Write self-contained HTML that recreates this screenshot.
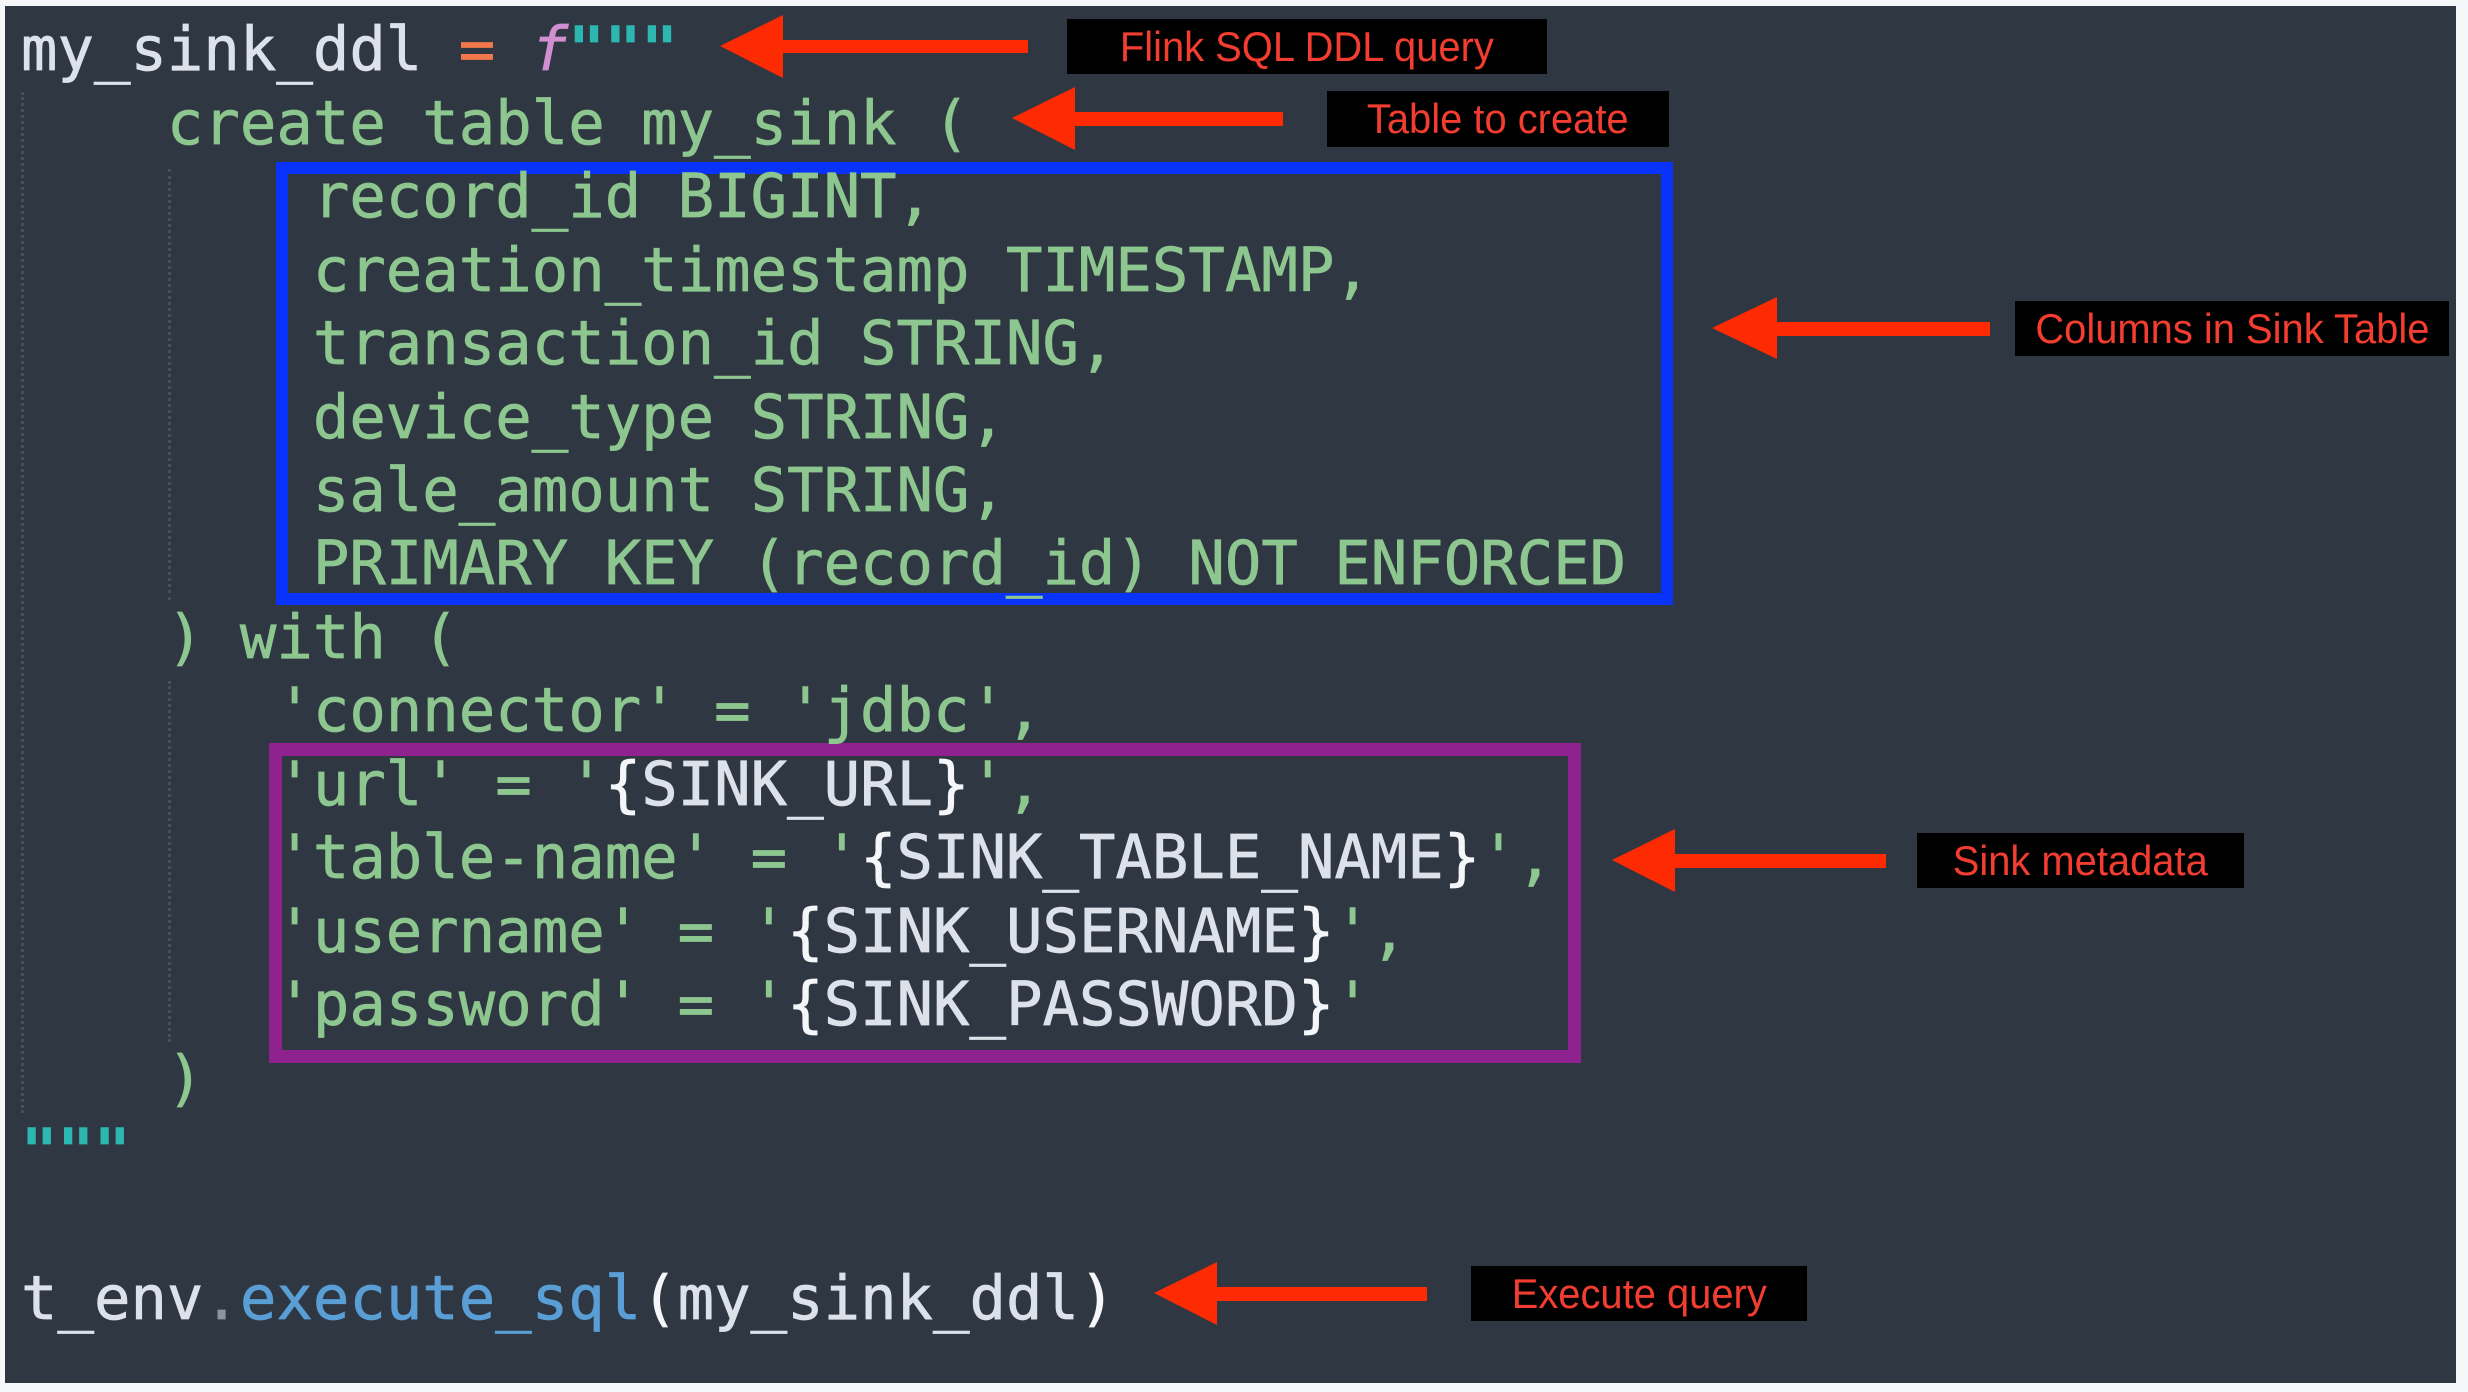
<!DOCTYPE html>
<html>
<head>
<meta charset="utf-8">
<style>
  html, body { margin:0; padding:0; }
  body { width:2468px; height:1392px; background:#f6f7f9; position:relative; overflow:hidden; }
  #bg { position:absolute; left:5px; top:6px; width:2451px; height:1377px; background:#2e3742; }
  pre.code {
    position:absolute; left:21px; top:14.3px; margin:0;
    font-family:"DejaVu Sans Mono","Liberation Mono",monospace;
    font-size:60.6px; line-height:73.45px; white-space:pre;
    color:#d9dee6;
    -webkit-text-stroke:0.7px currentColor;
  }
  .g { color:#8dc78f; }
  .w { color:#dde2ea; }
  .o { color:#f0784a; }
  .p { color:#d18fd1; font-style:italic; }
  .t { color:#2db7b1; font-weight:bold; }
  .b { color:#5a9ed6; }
  .d { color:#8b939c; }
  .wh { color:#f4f6f9; }
  .guide { position:absolute; width:0; border-left:3px dotted #465059; }
  .box { position:absolute; box-sizing:border-box; }
  .lbl {
    position:absolute; background:#000; color:#f23d30;
    font-family:"Liberation Sans",Arial,sans-serif; font-size:42px;
    display:flex; align-items:center; justify-content:center; white-space:nowrap;
  }
  .lbl span { display:inline-block; transform:scaleX(0.95); }
  svg { position:absolute; left:0; top:0; }
</style>
</head>
<body>
<div id="bg"></div>

<div class="guide" style="left:21px; top:92px; height:1021px;"></div>
<div class="guide" style="left:168px; top:169px; height:431px;"></div>
<div class="guide" style="left:168px; top:681px; height:361px;"></div>

<div class="box" style="left:276px; top:162px; width:1397px; height:443px; border:12px solid #0a33fa;"></div>
<div class="box" style="left:269px; top:743px; width:1312px; height:320px; border:13px solid #8f228f;"></div>

<pre class="code"><span class="w">my_sink_ddl</span> <span class="o">=</span> <span class="p">f</span><span class="t">"""</span>
<span class="g">    create table my_sink (</span>
<span class="g">        record_id BIGINT,</span>
<span class="g">        creation_timestamp TIMESTAMP,</span>
<span class="g">        transaction_id STRING,</span>
<span class="g">        device_type STRING,</span>
<span class="g">        sale_amount STRING,</span>
<span class="g">        PRIMARY KEY (record_id) NOT ENFORCED</span>
<span class="g">    ) with (</span>
<span class="g">       'connector' = 'jdbc',</span>
<span class="g">       'url' = '</span><span class="wh">{</span><span class="w">SINK_URL</span><span class="wh">}</span><span class="g">',</span>
<span class="g">       'table-name' = '</span><span class="wh">{</span><span class="w">SINK_TABLE_NAME</span><span class="wh">}</span><span class="g">',</span>
<span class="g">       'username' = '</span><span class="wh">{</span><span class="w">SINK_USERNAME</span><span class="wh">}</span><span class="g">',</span>
<span class="g">       'password' = '</span><span class="wh">{</span><span class="w">SINK_PASSWORD</span><span class="wh">}</span><span class="g">'</span>
<span class="g">    )</span>
<span class="t">"""</span>

<span class="w">t_env</span><span class="d">.</span><span class="b">execute_sql</span><span class="wh">(</span><span class="w">my_sink_ddl</span><span class="wh">)</span></pre>

<svg width="2468" height="1392" viewBox="0 0 2468 1392">
  <g fill="#fe2a02">
    <polygon points="720,46 783,15 783,40 1028,40 1028,53 783,53 783,78"/>
    <polygon points="1012,118 1075,87 1075,112 1283,112 1283,126 1075,126 1075,150"/>
    <polygon points="1712,328 1777,297 1777,322 1990,322 1990,336 1777,336 1777,359"/>
    <polygon points="1612,860 1675,829 1675,854 1886,854 1886,868 1675,868 1675,892"/>
    <polygon points="1154,1293 1217,1262 1217,1287 1427,1287 1427,1301 1217,1301 1217,1325"/>
  </g>
</svg>

<div class="lbl" style="left:1067px; top:19px; width:480px; height:55px;"><span>Flink SQL DDL query</span></div>
<div class="lbl" style="left:1327px; top:91px; width:342px; height:56px;"><span>Table to create</span></div>
<div class="lbl" style="left:2015px; top:301px; width:434px; height:55px;"><span>Columns in Sink Table</span></div>
<div class="lbl" style="left:1917px; top:833px; width:327px; height:55px;"><span>Sink metadata</span></div>
<div class="lbl" style="left:1471px; top:1266px; width:336px; height:55px;"><span>Execute query</span></div>
</body>
</html>
